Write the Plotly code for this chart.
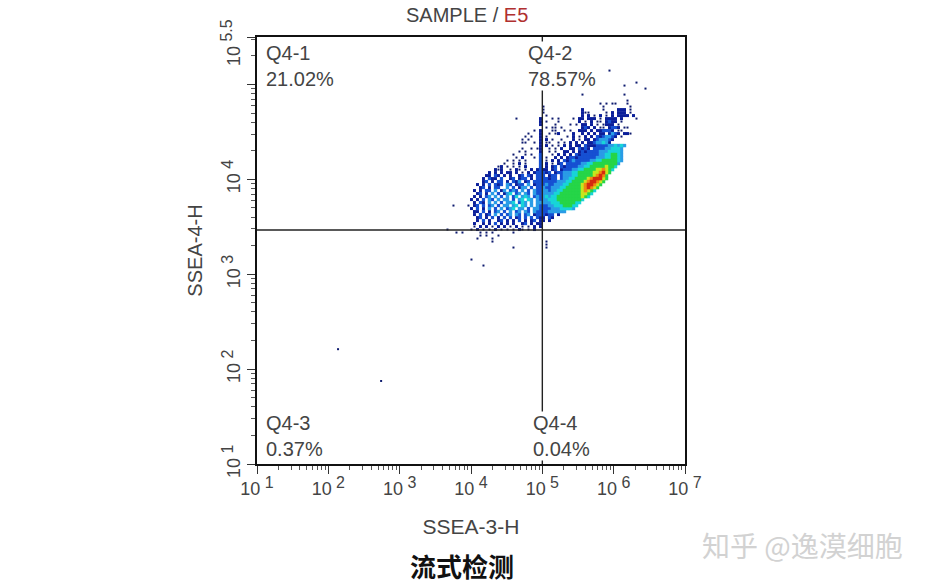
import plotly.graph_objects as go

# Density map: {row: [(first column, cells), ...]}
# Each cell is a density class; blank = no events.
X0_LOG, DX_LOG = 3.586, 0.04206
Y0_LOG, DY_LOG = 5.241, 0.03161
DENSITY_ROWS = {
3: [(56, ".")],
7: [(65, ".")],
8: [(61, ".")],
9: [(68, ".")],
11: [(47, "."), (61, ".")],
13: [(62, ".")],
14: [(53, ". . .."), (62, ".")],
15: [(34, "."), (54, "."), (63, ".")],
16: [(34, "."), (47, "1"), (54, "."), (59, "111"), (63, ".")],
17: [(34, "."), (47, "1.."), (55, "."), (57, "1 111 .")],
18: [(35, "."), (47, "1 1 . 1 . 1 1111 1")],
19: [(25, "."), (33, "1"), (37, ". ."), (44, "."), (46, "11 111 . 1111 1"), (65, ".")],
20: [(33, "1"), (35, "."), (39, "."), (46, "1 . 1 .. 1211 .")],
21: [(33, "1"), (38, "."), (43, ". ."), (47, "11 1 . .111 .")],
22: [(35, "."), (37, ".. ."), (47, "121 1 .. 1221 ."), (62, ".")],
23: [(31, "."), (33, "1"), (37, ".."), (41, ". ."), (46, "111 1 112221 ..")],
24: [(29, "."), (33, "1"), (36, ". ."), (39, "1"), (44, "1"), (47, "1 1 1 11 1321 11.")],
25: [(28, ". ."), (33, "1"), (35, "."), (42, "."), (44, "1"), (46, ". 1 1 2123321 .")],
26: [(27, ". ."), (33, "1"), (35, "1 ."), (40, "."), (44, "1 . 11 1233321")],
27: [(27, ".."), (31, "."), (33, "1"), (35, ".."), (39, ". ."), (43, "1 1 1 11233431")],
28: [(33, "1"), (35, "1 . ."), (41, "1 1 11 211" "1222233434" "3")],
29: [(27, "."), (30, ". ."), (33, "1"), (36, ". . 1"), (43, "11 2121 22" "22334443")],
30: [(26, ". ."), (33, "1"), (36, ". ."), (41, "11 1 12122" "2233344443")],
31: [(24, "."), (28, ". ."), (33, "2"), (37, "."), (39, "1 1 1 2122" "2222334455" "43")],
32: [(25, ". 1"), (31, "."), (33, "2"), (35, "."), (38, "1 1 122122" "2222333445" "543")],
33: [(22, ". . . ."), (33, "2"), (35, "."), (37, "1 1 212322" "2223344555" "5543")],
34: [(21, "."), (24, ". 1 ."), (33, "2"), (35, "1 . 12 222" "2233445555" "55553")],
35: [(19, ".1 . . . 1"), (33, "2"), (35, "1 12 21222" "2334455555" "6554")],
36: [(18, "1.1"), (23, ". 1. . 1 1"), (33, "2"), (34, "11 12 1222" "3344555566" "7654")],
37: [(16, "1 1 1"), (22, "11 1 . 1 12"), (33, "2"), (34, "212 122333" "4455555667" "865")],
38: [(15, "11 21 1 1  12 21 22" "2 122 2333" "4455555678" "75")],
39: [(14, "1 211 2  12 122 1 22" "22122 2334" "4555567888" "65")],
40: [(13, " 12 1 22 1 213 12 222" "2222233344" "5555678876" "5")],
41: [(12, "1 1 2 212 32 122 3 122" "2322333445" "5556788765")],
42: [(12, " 12 1 22  3 2 133 2 22" "3223334455" "555678765")],
43: [(11, "1 1 22 3 13 232 3 2 322" "3323344555" "55567654")],
44: [(11, " 12 1 3 2 134 23 32 322" "3333445555" "5556654")],
45: [(11, "1 1 23 3 2 3 24 343 232" "3434455555" "555654")],
46: [(10, "1 1 2 32 3 33 2 34 43 32" "3344455555" "5554")],
47: [(10, " 1 21 3 3 2 334 243 3 33" "3334445555" "544")],
48: [(4, "."), (9, ". 12 2 23 2 33 34 43 3 322" "2334445554" "4")],
49: [(10, "1 2 1 3 2 3 234 33 2 3322" "2233344443")],
50: [(10, " 11 2 1 23 2 3 23 32 322" "22333333")],
51: [(11, "1 2 12 3 2 23 32 23 122" "2122 1")],
52: [(11, " 12 1 2 1 2 2 12 2 2 21" "1 21")],
53: [(12, "1 2 1  12 1 1 2 1 12 1" "1 1")],
54: [(11, "1  1 1 2 1 1 1  12 1 11")],
55: [(11, ". 1 1 . 1 1 . 1 . . 1 1")],
56: [(2, "."), (10, ". 1 . . 1 . . . 1. . 1")],
57: [(5, ". ."), (13, ". ."), (17, "."), (24, ".")],
58: [(13, "."), (15, "."), (19, ".")],
59: [(12, "."), (17, ".")],
60: [(17, "."), (35, ".")],
61: [(35, ".")],
62: [(24, "."), (35, ".")],
66: [(10, ".")],
68: [(14, ".")],
}
ISOLATED_X = [136.8, 549.5]
ISOLATED_Y = [162.2, 75.0]

X_TICKS = [1e1, 1e2, 1e3, 1e4, 1e5, 1e6, 1e7]
X_LABELS = ["1", "2", "3", "4", "5", "6", "7"]
Y_TICKS = [1e1, 1e2, 1e3, 1e4, 1e5, 10 ** 5.5]
Y_LABELS = ["1", "2", "3", "4", None, None]
TOP_LABEL = "5.5"
GATE_X = 1e5
GATE_Y = 2925.0
GATE_Y_TOP = 10 ** 5.5
QUADRANTS = ["Q4-1", "Q4-2", "Q4-3", "Q4-4"]
PERCENTS = ["21.02%", "78.57%", "0.37%", "0.04%"]

COLORS = {".": "#0d1a6e", "1": "#0b1f9a", "2": "#1650d2", "3": "#2a9ce6", "4": "#18d4d8",
          "5": "#25d548", "6": "#c6e61e", "7": "#ee8a12", "8": "#d42a10"}
SIZES = {".": 2, "1": 3, "2": 3.2, "3": 3.4, "4": 3.5, "5": 3.5, "6": 3.5, "7": 3.5, "8": 3.5}

points = {k: ([], []) for k in COLORS}
for row, segments in DENSITY_ROWS.items():
    for start, cells in segments:
        for i, c in enumerate(cells):
            if c != " ":
                points[c][0].append(10 ** (X0_LOG + (start + i) * DX_LOG))
                points[c][1].append(10 ** (Y0_LOG - row * DY_LOG))

fig = go.Figure()
for k in COLORS:
    fig.add_trace(go.Scatter(x=points[k][0], y=points[k][1], mode="markers", showlegend=False,
                             marker=dict(symbol="square", size=SIZES[k], color=COLORS[k], line=dict(width=0))))
fig.add_trace(go.Scatter(x=ISOLATED_X, y=ISOLATED_Y, mode="markers", showlegend=False,
                         marker=dict(symbol="square", size=2, color=COLORS["."], line=dict(width=0))))
LINE = "#222222"
fig.add_trace(go.Scatter(x=[X_TICKS[0], X_TICKS[-1]], y=[GATE_Y, GATE_Y], mode="lines", showlegend=False,
                         line=dict(color=LINE, width=1.4)))
fig.add_trace(go.Scatter(x=[GATE_X, GATE_X], y=[Y_TICKS[0], GATE_Y_TOP], mode="lines", showlegend=False,
                         line=dict(color=LINE, width=1.4)))

TXT = "#444444"
FONT = "Liberation Sans, Arial, sans-serif"


def sup(base, exp):
    return f"{base}<sup><span style='font-size:16px'> {exp}</span></sup>"


axis = dict(type="log", showgrid=False, zeroline=False, showline=True, linecolor="#111111", linewidth=1.5,
            mirror=True, ticks="outside", ticklen=8, tickcolor="#333333", tickwidth=1,
            tickfont=dict(family=FONT, size=18, color=TXT),
            minor=dict(ticks="outside", ticklen=4, tickcolor="#555555", tickwidth=1, dtick="D1", showgrid=False))
fig.update_layout(
    width=926, height=584, paper_bgcolor="white", plot_bgcolor="white", showlegend=False,
    margin=dict(l=257, r=241, t=37, b=120),
    font=dict(family=FONT, color=TXT),
    xaxis=dict(axis, range=[1, 7], tickvals=X_TICKS, ticktext=[sup("10", e) for e in X_LABELS],
               tickangle=0, title=dict(text="SSEA-3-H", font=dict(size=21, family=FONT, color=TXT), standoff=21)),
    yaxis=dict(axis, range=[1, 5.5], tickvals=Y_TICKS,
               ticktext=[sup("10", e) if e else "" for e in Y_LABELS],
               tickangle=-90, title=dict(text="SSEA-4-H", font=dict(size=20, family=FONT, color=TXT), standoff=10)),
)


def px(x):
    return (x - 257) / 428


def py(y):
    return (464 - y) / 427


def note(x, y, text, size=20, color=TXT, family=FONT, xanchor="left", yanchor="top", bg=None, align="left", angle=0):
    fig.add_annotation(x=px(x), y=py(y), xref="paper", yref="paper", text=text, showarrow=False,
                       xanchor=xanchor, yanchor=yanchor, align=align, bgcolor=bg, borderpad=0, textangle=angle,
                       font=dict(size=size, color=color, family=family))


spots = [(265, 41), (527, 41), (265, 411), (532, 411)]
for (x, y), q, p in zip(spots, QUADRANTS, PERCENTS):
    note(x, y, f"{q}<br>{p}", bg="white")

note(467, 15, "SAMPLE / <span style='color:#b03030'>E5</span>", xanchor="center", yanchor="middle", align="center")
note(231, 43, sup("10", TOP_LABEL), size=18, xanchor="center", yanchor="middle", align="center", angle=-90)
note(462, 565, "<b>流式检测</b>", size=26, color="#111111", family="Noto Sans CJK SC",
     xanchor="center", yanchor="middle", align="center")
note(802, 545, "知乎 @逸漠细胞", size=28, color="#d2d2d2", family="Noto Sans CJK SC",
     xanchor="center", yanchor="middle", align="center")

fig.write_html("out.html", config={"displayModeBar": False}, post_script="document.body.style.margin='0';")
